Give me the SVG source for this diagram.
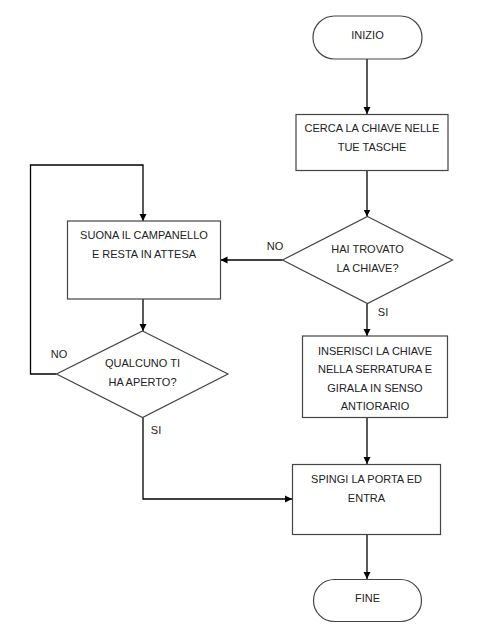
<svg xmlns="http://www.w3.org/2000/svg" width="486" height="640" viewBox="0 0 486 640">
<style>
.shape{fill:#fff;stroke:#444;stroke-width:1.2}
.t{font-family:"Liberation Sans",Arial,sans-serif;font-size:11px;fill:#222;text-anchor:middle}
.c{fill:none;stroke:#000;stroke-width:1.3}
</style>
<defs>
<marker id="ah" markerWidth="8" markerHeight="8" refX="7" refY="4" orient="auto" markerUnits="userSpaceOnUse">
<path d="M0,0.5 L7,4 L0,7.5 Z" fill="#000"/>
</marker>
</defs>
<rect width="486" height="640" fill="#fff"/>
<g id="connectors">
<line class="c" x1="367" y1="59" x2="367" y2="114" marker-end="url(#ah)"/>
<line class="c" x1="367" y1="171" x2="367" y2="216.5" marker-end="url(#ah)"/>
<line class="c" x1="282.5" y1="260" x2="220.5" y2="260" marker-end="url(#ah)"/>
<polyline class="c" points="56.5,374 30.5,374 30.5,165 143,165 143,221" marker-end="url(#ah)"/>
<line class="c" x1="143" y1="299" x2="143" y2="331" marker-end="url(#ah)"/>
<line class="c" x1="367" y1="303.5" x2="367" y2="336" marker-end="url(#ah)"/>
<line class="c" x1="367" y1="417.5" x2="367" y2="464" marker-end="url(#ah)"/>
<polyline class="c" points="143,417.5 143,499 292,499" marker-end="url(#ah)"/>
<line class="c" x1="367" y1="534.5" x2="367" y2="579" marker-end="url(#ah)"/>
<text class="t" x="275" y="250">NO</text>
<text class="t" x="383" y="316">SI</text>
<text class="t" x="59" y="357.5">NO</text>
<text class="t" x="156" y="434">SI</text>
</g>
<g id="inizio">
<rect class="shape" x="313" y="16" width="109" height="43" rx="21.5" ry="21.5"/>
<text class="t" x="367.5" y="39">INIZIO</text>
</g>
<g id="cerca">
<rect class="shape" x="296" y="114.5" width="152" height="56"/>
<text class="t" x="372" y="132">CERCA LA CHIAVE NELLE</text>
<text class="t" x="372" y="151">TUE TASCHE</text>
</g>
<g id="trovato">
<polygon class="shape" points="367.5,216.5 452.5,260 367.5,303.5 282.5,260"/>
<text class="t" x="367.5" y="253">HAI TROVATO</text>
<text class="t" x="367.5" y="272">LA CHIAVE?</text>
</g>
<g id="suona">
<rect class="shape" x="67.5" y="221" width="153" height="78"/>
<text class="t" x="144" y="239">SUONA IL CAMPANELLO</text>
<text class="t" x="144" y="258">E RESTA IN ATTESA</text>
</g>
<g id="qualcuno">
<polygon class="shape" points="142.5,331 228,374 142.5,417.5 56.5,374"/>
<text class="t" x="142.5" y="367">QUALCUNO TI</text>
<text class="t" x="142.5" y="386">HA APERTO?</text>
</g>
<g id="inserisci">
<rect class="shape" x="302.5" y="336" width="145" height="81.5"/>
<text class="t" x="375" y="354.5">INSERISCI LA CHIAVE</text>
<text class="t" x="375" y="373">NELLA SERRATURA E</text>
<text class="t" x="375" y="391.5">GIRALA IN SENSO</text>
<text class="t" x="375" y="410">ANTIORARIO</text>
</g>
<g id="spingi">
<rect class="shape" x="292.5" y="464.5" width="148" height="70"/>
<text class="t" x="366.5" y="483">SPINGI LA PORTA ED</text>
<text class="t" x="366.5" y="501.5">ENTRA</text>
</g>
<g id="fine">
<rect class="shape" x="313.5" y="579.5" width="108" height="42" rx="21" ry="21"/>
<text class="t" x="367.5" y="602">FINE</text>
</g>
</svg>
